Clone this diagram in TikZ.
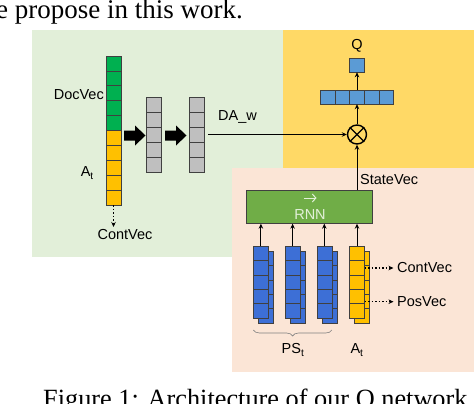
\documentclass[tikz,border=0pt]{standalone}
\usepackage{fontspec}
\setmainfont{Liberation Serif}
\newfontfamily\labelfont{Liberation Sans}
\usetikzlibrary{arrows.meta,decorations.pathreplacing,positioning}

\definecolor{panelgreen}{HTML}{E2EFD9}
\definecolor{panelgold}{HTML}{FFD966}
\definecolor{panelpeach}{HTML}{FBE5D6}
\definecolor{cellgreen}{HTML}{00B050}
\definecolor{cellgold}{HTML}{FFC000}
\definecolor{cellgray}{HTML}{BFBFBF}
\definecolor{cellblue}{HTML}{3D6FD6}
\definecolor{cellsky}{HTML}{5B9BD5}
\definecolor{rnngreen}{HTML}{70AD47}
\definecolor{rnntext}{HTML}{E2F0D9}

\begin{document}
\begin{tikzpicture}[x=1pt, y=-1pt,
    lbl/.style={font=\labelfont\fontsize{14.5}{16}\selectfont, inner sep=0pt},
    cell/.style={draw=black!75, line width=0.6pt},
    hold/.style={inner sep=0pt, outer sep=0pt, minimum width=15pt},
    arr/.style={-{Stealth[length=5pt, width=4.5pt]}, line width=1pt},
    dotarr/.style={-{Stealth[length=5pt, width=4.5pt]}, line width=1.5pt, dotted}]

	\useasboundingbox (0,0) rectangle (474,404);
	\clip (0,0) rectangle (474,404);

	% panels
	\fill[panelgreen] (32,30) rectangle (283,257);
	\fill[panelgold] (283,30) rectangle (474,167.5);
	\fill[panelpeach] (232,167.5) rectangle (474,372);

	% page text around the figure
	\node[anchor=base west, inner sep=0pt, font=\fontsize{27}{30}\selectfont] (prev) at (-4,18.5) {e propose in this work.};
	\node[anchor=base west, inner sep=0pt, font=\fontsize{26.3}{30}\selectfont] (capt) at (43,407.4) {Figure 1: Architecture of our Q network};

	% DocVec and A_t
	\foreach \i in {0,...,4}
		\filldraw[cell, fill=cellgreen] (106,{56+14.9*\i}) rectangle ++(15,14.9);
	\foreach \i in {5,...,9}
		\filldraw[cell, fill=cellgold] (106,{56+14.9*\i}) rectangle ++(15,14.9);
	\node[hold, minimum height=149pt, anchor=north west] (doc) at (106,56) {};
	\node[lbl, anchor=east] (docl) at (104,95) {DocVec};
	\node[lbl, anchor=east] (atl) at (94,173) {A\textsubscript{t}};
	\node[lbl, anchor=north] (contl) at (125,229) {ContVec};
	\coordinate (docend) at (113.5,227);
	\draw[dotarr] (doc.south) -- (docend);

	% block arrows
	\foreach \x in {124,165}
		\fill (\x,130.5) -- ++(11,0) -- ++(0,-5) -- ++(10.5,10) -- ++(-10.5,10) -- ++(0,-5) -- ++(-11,0) -- cycle;

	% gray layers
	\foreach \x/\n in {146/g1, 189/g2} {
		\foreach \i in {0,...,4}
			\filldraw[cell, fill=cellgray] (\x,{97+15*\i}) rectangle ++(15,15);
		\node[hold, minimum height=75pt, anchor=north west] (\n) at (\x,97) {};
	}

	% product and output
	\node[circle, draw, line width=1.4pt, minimum size=19pt, inner sep=0pt] (mul) at (357,134.5) {};
	\draw[line width=1.4pt] (mul.north west) -- (mul.south east) (mul.north east) -- (mul.south west);
	\draw[arr] ([xshift=4pt]g2.east) -- (mul.west);
	\node[lbl, anchor=west] (dawl) at (218,117) {DA\_w};

	\foreach \i in {0,...,4}
		\filldraw[cell, fill=cellsky] ({320.5+14.6*\i},90) rectangle ++(14.6,14);
	\node[inner sep=0pt, minimum width=73pt, minimum height=14pt] (hid) at (357,97) {};
	\node[cell, fill=cellsky, inner sep=0pt, minimum width=15pt, minimum height=14pt] (q) at (357,65) {};
	\node[lbl, above=5pt of q] (ql) {Q};
	\draw[arr] (mul.north) -- (hid.south);
	\draw[arr] (hid.north) -- (q.south);

	% RNN
	\node[draw=black!75, line width=0.8pt, fill=rnngreen, minimum width=126.7pt, minimum height=32.6pt, inner sep=0pt] (rnn) at (309.4,207) {};
	\draw[rnntext, line width=1pt, -{Straight Barb[length=3.5pt, width=8pt]}] (304,198) -- (316.5,198);
	\node[lbl, text=rnntext] (rnnl) at (310,215) {RNN};
	\draw[arr] (rnn.north -| mul) -- (mul.south);
	\node[lbl, anchor=west] (statel) at (360,180) {StateVec};

	% PS_t and A_t
	\foreach \x/\n/\c in {253.4/ps1/cellblue, 285.1/ps2/cellblue, 316.8/ps3/cellblue, 349.5/at/cellgold} {
		\foreach \i in {0,...,4}
			\filldraw[cell, fill=\c] ({\x+5},{251+14.4*\i}) rectangle ++(15,14.4);
		\foreach \i in {0,...,4}
			\filldraw[cell, fill=\c] (\x,{246+14.4*\i}) rectangle ++(15,14.4);
		\node[hold, minimum height=72pt, anchor=north west] (\n) at (\x,246) {};
		\draw[arr] (\n.north) -- (\n.north |- rnn.south);
	}

	\node[lbl, anchor=west] (cvl) at (397,268) {ContVec};
	\node[lbl, anchor=west] (pvl) at (397,301.7) {PosVec};
	\draw[dotarr, shorten >=3.5pt] (at.east |- cvl.west) -- (cvl.west);
	\draw[dotarr, shorten >=3.5pt] (at.east |- pvl.west) -- (pvl.west);

	\draw[decorate, decoration={brace, mirror, amplitude=6pt}, gray, line width=0.6pt]
		([yshift=-12pt]ps1.south west) -- ([yshift=-12pt]ps3.south east);
	\node[lbl] (psl) at (293,350) {PS\textsubscript{t}};
	\node[lbl] (atl2) at (357,350) {A\textsubscript{t}};
\end{tikzpicture}
\end{document}
